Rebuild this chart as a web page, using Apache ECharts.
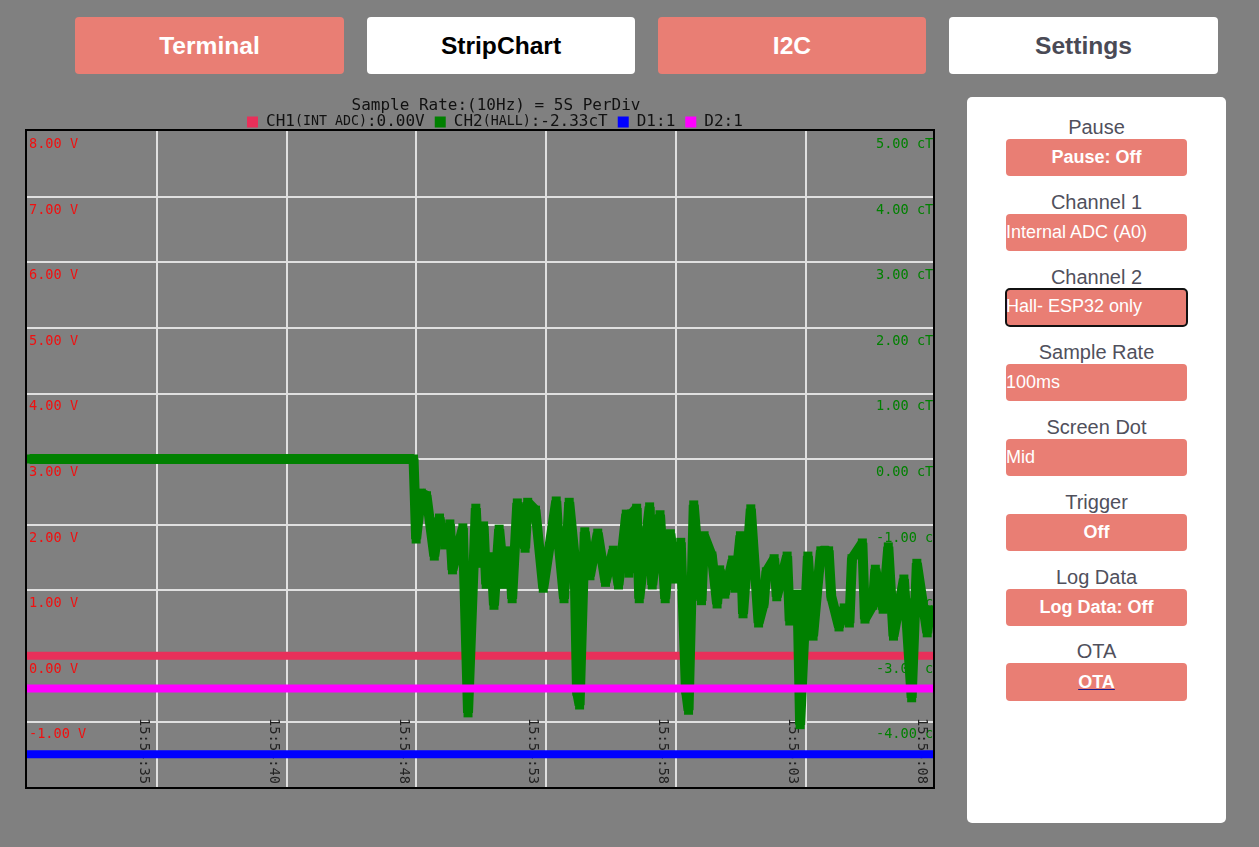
<!DOCTYPE html>
<html>
<head>
<meta charset="utf-8">
<title>StripChart</title>
<script src="https://cdn.jsdelivr.net/npm/echarts@6/dist/echarts.min.js"></script>
<style>
  html, body { margin: 0; padding: 0; width: 1259px; height: 847px; overflow: hidden; background: #808080; font-family: "Liberation Sans", Arial, sans-serif; }
  #strip { position: absolute; left: 0; top: 90px; width: 960px; height: 720px; }
  .tab { position: absolute; top: 17px; height: 57px; line-height: 57px; border-radius: 4px; text-align: center; font-size: 24.6px; font-weight: bold; color: #fff; background: #e97e74; }
  .tab.white { background: #fff; }
  #panel { position: absolute; left: 967px; top: 97px; width: 259px; height: 726px; background: #fff; border-radius: 5px; }
  .cap { position: absolute; left: 0; width: 259px; text-align: center; font-size: 20px; line-height: 24px; color: #50505c; }
  .ctl { position: absolute; left: 39px; width: 181px; height: 37px; line-height: 36px; border-radius: 4px; background: #e97e74; color: #fff; font-size: 18px; box-sizing: border-box; white-space: nowrap; }
  .ctl.btn { text-align: center; font-weight: bold; }
  .ctl.focus { border: 2px solid #111; line-height: 33px; left: 38px; width: 183px; height: 39px; border-radius: 5px; text-indent: -1px; }
</style>
</head>
<body>
<div class="tab" style="left:75px;width:269px">Terminal</div>
<div class="tab white" style="left:367px;width:268px;color:#000">StripChart</div>
<div class="tab" style="left:658px;width:268px">I2C</div>
<div class="tab white" style="left:949px;width:269px;color:#4a4a55">Settings</div>

<div id="strip"></div>

<div id="panel">
  <div class="cap" style="top:18px">Pause</div>
  <div class="ctl btn" style="top:42px">Pause: Off</div>
  <div class="cap" style="top:93px">Channel 1</div>
  <div class="ctl" style="top:117px">Internal ADC (A0)</div>
  <div class="cap" style="top:168px">Channel 2</div>
  <div class="ctl focus" style="top:191px">Hall- ESP32 only</div>
  <div class="cap" style="top:243px">Sample Rate</div>
  <div class="ctl" style="top:267px">100ms</div>
  <div class="cap" style="top:318px">Screen Dot</div>
  <div class="ctl" style="top:342px">Mid</div>
  <div class="cap" style="top:393px">Trigger</div>
  <div class="ctl btn" style="top:417px">Off</div>
  <div class="cap" style="top:468px">Log Data</div>
  <div class="ctl btn" style="top:492px">Log Data: Off</div>
  <div class="cap" style="top:542px">OTA</div>
  <div class="ctl btn" style="top:566px;height:38px;line-height:38px"><span style="text-decoration:underline;text-decoration-color:#1a1a8c">OTA</span></div>
</div>

<script>
// x is the sample number: 10 samples a second, 50 to a division
var sampleCount = 350;
var timeLabels = ['15:54:35', '15:54:40', '15:54:48', '15:54:53', '15:54:58', '15:55:03', '15:55:08'];

var flatSamples = [0, 350];
var ch1Values = [0, 0];
var d1Values = [-1.5, -1.5];
var d2Values = [-0.5, -0.5];

// hall channel (turning points only)
var ch2Samples = [1, 149, 150, 152, 154, 157, 159, 161, 163, 164, 168, 170, 173, 174, 176, 177, 179, 180, 182, 184,
  186, 187, 189, 192, 193, 196, 199, 204, 205, 207, 209, 211, 212, 213, 215, 217, 220, 223, 226, 228,
  231, 232, 233, 235, 236, 240, 241, 244, 246, 248, 250, 252, 254, 255, 257, 260, 261, 264, 266, 267,
  269, 272, 273, 275, 276, 279, 282, 284, 285, 288, 289, 293, 294, 297, 298, 301, 303, 306, 309, 310,
  313, 315, 317, 318, 322, 323, 326, 327, 330, 332, 334, 338, 341, 343, 347, 348];
var ch2Values = [0, 0, -1.22, -0.52, -0.56, -1.48, -0.90, -1.31, -0.99, -1.69, -1.05, -3.87, -0.75, -1.59, -1.02, -1.91, -1.49, -2.23, -1.07, -1.91,
  -1.40, -2.13, -0.67, -1.36, -0.66, -0.78, -1.97, -0.64, -1.30, -2.13, -0.66, -1.46, -3.54, -3.75, -1.11, -1.78, -1.13, -1.88, -1.39, -1.92,
  -0.84, -1.74, -0.84, -0.75, -2.13, -0.73, -1.92, -0.85, -2.13, -1.14, -1.83, -1.27, -3.52, -3.83, -0.70, -2.16, -1.17, -1.48, -2.21, -1.69,
  -2.06, -1.54, -1.97, -1.17, -2.36, -0.76, -2.50, -2.20, -1.72, -1.52, -2.10, -1.48, -2.47, -2.06, -4.05, -1.48, -2.70, -1.40, -1.40, -2.09,
  -2.56, -2.27, -2.50, -1.52, -1.28, -2.44, -2.23, -1.68, -2.29, -1.34, -2.70, -1.83, -3.64, -1.59, -2.65, -2.30];

function zipPoints(xs, ys) {
  var pts = [];
  for (var i = 0; i < xs.length; i++) pts.push([xs[i], ys[i]]);
  return pts;
}

var MONO = '"DejaVu Sans Mono", monospace';
var GRID_LINE = { show: true, showMinLine: false, showMaxLine: false, lineStyle: { color: '#e0e0e0', width: 2 } };

var chart = echarts.init(document.getElementById('strip'));

chart.setOption({
  animation: false,
  backgroundColor: 'transparent',
  title: {
    text: 'Sample Rate:(10Hz) = 5S PerDiv',
    left: 496, top: 8, textAlign: 'center', padding: 0,
    textStyle: { fontFamily: MONO, fontSize: 16, fontWeight: 'normal', color: '#111' }
  },
  legend: {
    left: 247, top: 24, padding: 0,
    icon: 'rect', itemWidth: 11, itemHeight: 11, itemGap: 10,
    data: ['CH1', 'CH2', 'D1', 'D2'],
    formatter: function(name) {
      if (name === 'CH1') return '{a|CH1}{s|(INT ADC)}{a|:0.00V}';
      if (name === 'CH2') return '{a|CH2}{s|(HALL)}{a|:-2.33cT}';
      return '{a|' + name + ':1}';
    },
    textStyle: {
      padding: [0, 1, 0, 3],
      rich: {
        a: { fontFamily: MONO, fontSize: 16, color: '#111' },
        s: { fontFamily: MONO, fontSize: 13.3, color: '#111' }
      }
    }
  },
  grid: { left: 27, top: 41, width: 908, height: 656 },
  xAxis: {
    type: 'value', min: 0, max: sampleCount, interval: 50,
    axisLine: { show: false }, axisTick: { show: false },
    splitLine: GRID_LINE,
    axisLabel: {
      inside: true, rotate: -90, margin: 3, align: 'right', verticalAlign: 'top',
      showMinLabel: false, showMaxLabel: true, hideOverlap: false,
      padding: [6, 0, 0, 0],
      fontFamily: MONO, fontSize: 13.7, color: '#222',
      formatter: function(v) { return timeLabels[v / 50 - 1] || ''; }
    }
  },
  yAxis: [
    {
      type: 'value', min: -2, max: 8, interval: 1,
      axisLine: { show: false }, axisTick: { show: false },
      splitLine: GRID_LINE,
      axisLabel: {
        inside: true, margin: 2, verticalAlign: 'top', padding: [6.5, 0, 0, 0],
        showMinLabel: false, hideOverlap: false,
        fontFamily: MONO, fontSize: 13.6, color: '#f01010',
        formatter: function(v) { return v.toFixed(2) + ' V'; }
      }
    },
    {
      type: 'value', min: -5, max: 5, interval: 1, position: 'right',
      axisLine: { show: false }, axisTick: { show: false },
      splitLine: { show: false },
      axisLabel: {
        inside: true, margin: 59, align: 'left', verticalAlign: 'top', padding: [6.5, 0, 0, 0],
        showMinLabel: false, hideOverlap: false,
        fontFamily: MONO, fontSize: 13.6, color: '#008000',
        // the canvas edge cuts these off after seven characters
        formatter: function(v) { return (v.toFixed(2) + ' cT').slice(0, 7); }
      }
    }
  ],
  series: [
    { name: 'CH1', type: 'line', z: 2, color: '#e8305a', yAxisIndex: 0, symbol: 'none', lineStyle: { width: 8 }, data: zipPoints(flatSamples, ch1Values) },
    { name: 'CH2', type: 'line', z: 3, color: '#008000', yAxisIndex: 1, symbol: 'rect', symbolSize: 9, showAllSymbol: true,
      lineStyle: { width: 10, join: 'bevel' }, data: zipPoints(ch2Samples, ch2Values) },
    { name: 'D1', type: 'line', z: 4, color: '#0000ff', yAxisIndex: 0, symbol: 'none', lineStyle: { width: 8 }, data: zipPoints(flatSamples, d1Values) },
    { name: 'D2', type: 'line', z: 5, color: '#ff00ff', yAxisIndex: 0, symbol: 'none', lineStyle: { width: 8 }, data: zipPoints(flatSamples, d2Values) }
  ],
  // black frame sits over the plot
  graphic: [{
    type: 'rect', z: 100, silent: true,
    shape: { x: 26, y: 40, width: 908, height: 658 },
    style: { fill: 'none', stroke: '#000', lineWidth: 2 }
  }]
});
</script>
</body>
</html>
